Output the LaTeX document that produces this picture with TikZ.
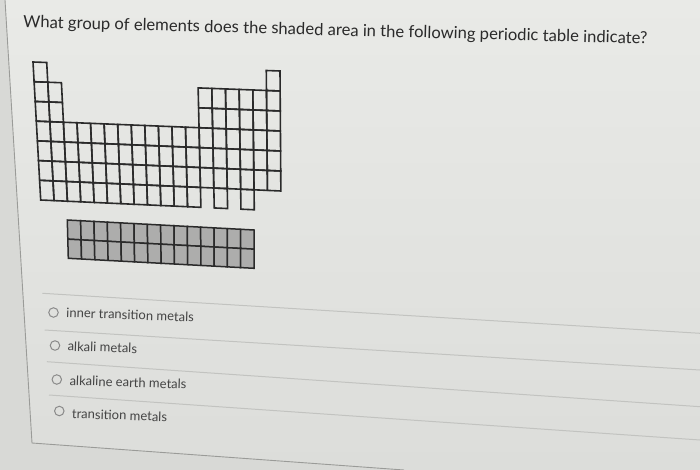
\documentclass[tikz,border=0pt]{standalone}
\usepackage{fontspec}
\setmainfont{Lato}
\definecolor{bgtop}{HTML}{E9EAE7}
\definecolor{bgbot}{HTML}{DCDDDA}
\definecolor{outcol}{HTML}{D8D9D6}
\definecolor{tablinecol}{HTML}{2A2A2A}
\definecolor{lanthfill}{HTML}{ADADAC}
\definecolor{qcol}{HTML}{2A2A2A}
\definecolor{optcol}{HTML}{444444}
\definecolor{radiocol}{HTML}{8A8A8A}
\definecolor{divcol}{HTML}{C2C3C0}
\definecolor{bordcol}{HTML}{9A9B98}
% bilinear grid helpers
\newcommand\setgrid[8]{\def\gTLx{#1}\def\gTLy{#2}\def\gTRx{#3}\def\gTRy{#4}\def\gBLx{#5}\def\gBLy{#6}\def\gBRx{#7}\def\gBRy{#8}}
\newcommand\gpt[3]{%
  \pgfmathsetmacro\gpU{(#1)/\gNC}\pgfmathsetmacro\gpV{(#2)/\gNR}%
  \pgfmathsetmacro\gpX{(1-\gpU)*(1-\gpV)*\gTLx+\gpU*(1-\gpV)*\gTRx+(1-\gpU)*\gpV*\gBLx+\gpU*\gpV*\gBRx}%
  \pgfmathsetmacro\gpY{(1-\gpU)*(1-\gpV)*\gTLy+\gpU*(1-\gpV)*\gTRy+(1-\gpU)*\gpV*\gBLy+\gpU*\gpV*\gBRy}%
  \coordinate (#3) at (\gpX,\gpY);}
\newcommand\gcell[3]{%
  \gpt{#1}{#2}{ka}\gpt{#1+1}{#2}{kb}\gpt{#1+1}{#2+1}{kc}\gpt{#1}{#2+1}{kd}%
  \draw[#3] (ka) -- (kb) -- (kc) -- (kd) -- cycle;}
\begin{document}
\begin{tikzpicture}[x=1pt,y=-1pt,
  cellline/.style={draw=tablinecol, line width=1.6pt, line join=miter},
  lanthcell/.style={draw=tablinecol, line width=1.5pt, line join=miter, fill=lanthfill},
  qtext/.style={anchor=base west, inner sep=0pt, font=\fontsize{16.6}{19}\selectfont, text=qcol, rotate=-1.5},
  opttext/.style={anchor=base west, inner sep=0pt, font=\fontsize{13}{15}\selectfont, text=optcol, rotate=-2},
  radio/.style={circle, draw=radiocol, line width=1pt, minimum size=9.5pt, inner sep=0pt},
  divider/.style={draw=divcol, line width=1pt},
  border/.style={draw=bordcol, line width=0.9pt}]
\useasboundingbox (0,0) rectangle (700,470);
\shade[top color=bgtop, bottom color=bgbot] (0,0) rectangle (700,470);
% outside of the card
\coordinate (bt) at (5,0);
\coordinate (bc) at (32,443);
\coordinate (bb) at (404,470);
\fill[outcol] (0,0) -- (bt) -- (bc) -- (bb) -- (0,470) -- cycle;
\draw[border] (bt) -- (bc) -- (bb);
% question
\node[qtext] (q) at (23,27.5) {What group of elements does the shaded area in the following periodic table indicate?};
% main periodic table
\def\gNC{18}\def\gNR{7}
\setgrid{33}{62}{280}{71}{40.7}{200}{281}{211}
\foreach \cc in {0,17} {\gcell{\cc}{0}{cellline}}
\foreach \rr in {1,2} {\foreach \cc in {0,1,12,13,14,15,16,17} {\gcell{\cc}{\rr}{cellline}}}
\foreach \rr in {3,4,5} {\foreach \cc in {0,...,17} {\gcell{\cc}{\rr}{cellline}}}
\foreach \cc in {0,...,11,13,15} {\gcell{\cc}{6}{cellline}}
% shaded block
\def\gNC{14}\def\gNR{2}
\setgrid{67.3}{220}{254}{230}{68.3}{258.3}{254}{268.3}
\foreach \rr in {0,1} {\foreach \cc in {0,...,13} {\gcell{\cc}{\rr}{lanthcell}}}
% dividers
\coordinate (d0a) at (42.4,293.3); \coordinate (d0b) at (700,333.3);
\coordinate (d1a) at (44.6,330); \coordinate (d1b) at (700,370);
\coordinate (d2a) at (46.9,361.7); \coordinate (d2b) at (700,406.7);
\coordinate (d3a) at (49,395); \coordinate (d3b) at (700,440);
\draw[divider] (d0a) -- (d0b);
\draw[divider] (d1a) -- (d1b);
\draw[divider] (d2a) -- (d2b);
\draw[divider] (d3a) -- (d3b);
% options
\node[radio] (r1) at (53.5,312.5) {};
\node[radio] (r2) at (55,345.5) {};
\node[radio] (r3) at (56.8,379.5) {};
\node[radio] (r4) at (59.3,411) {};
\node[opttext] (o1) at (66,317.3) {inner transition metals};
\node[opttext] (o2) at (67.3,350.8) {alkali metals};
\node[opttext] (o3) at (69.3,385) {alkaline earth metals};
\node[opttext] (o4) at (71.7,418.3) {transition metals};
\end{tikzpicture}
\end{document}
